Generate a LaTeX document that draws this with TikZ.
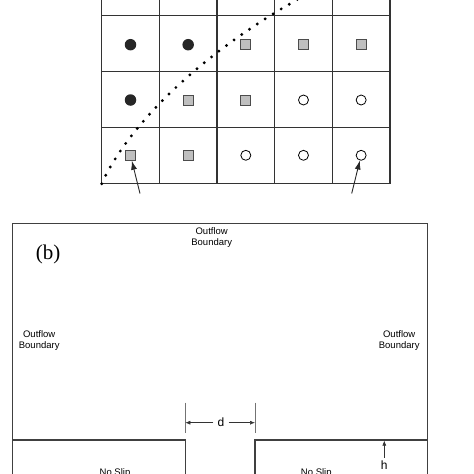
\documentclass[tikz,border=0pt]{standalone}
\usepackage{fontspec}
\setmainfont{Liberation Serif}
\setsansfont{Liberation Sans}
\usetikzlibrary{arrows.meta}
\begin{document}
\begin{tikzpicture}[x=1pt,y=-1pt,
    gridline/.style={line width=1.1pt,black!80},
    wall/.style={line width=1.2pt,black!75},
    ptf/.style={circle,fill=black!85,minimum size=11.5pt,inner sep=0pt},
    pts/.style={rectangle,draw=black!70,fill=black!25,line width=0.8pt,minimum size=10pt,inner sep=0pt},
    pto/.style={circle,draw=black,fill=white,line width=0.8pt,minimum size=10pt,inner sep=0pt},
    pointer/.style={-{Latex[length=9pt,width=6pt]},line width=0.9pt,black!85},
    dim/.style={-{Latex[length=5pt,width=4pt]},line width=0.6pt,black!80},
    ext/.style={line width=0.6pt,black!55},
    txt/.style={font=\sffamily\fontsize{9.5}{11}\selectfont,align=center,inner sep=0pt}]

    \useasboundingbox (0,0) rectangle (474,474);
    \clip (0,0) rectangle (474,474);

    % (a) grid of cells
    \foreach \i in {0,...,5}
        \draw[gridline] (101.7+57.66*\i,183.7) -- (101.7+57.66*\i,-10);
    \foreach \j in {0,...,3}
        \draw[gridline] (101.7,183.7-56*\j) -- (390,183.7-56*\j);

    % cell markers
    \foreach \y/\types [count=\r] in {44.7/{f,f,s,s,s},100/{f,s,s,o,o},155.3/{s,s,o,o,o}}
        \foreach \t [count=\c] in \types
            \node[pt\t] (m\r\c) at (72.84+57.66*\c,\y) {};

    % interface
    \draw[line width=3.2pt,line cap=round,dash pattern=on 0pt off 9.4pt]
        (101.7,183.7) .. controls (125,132) and (190,60) .. (300,-2);

    % pointers
    \coordinate (tailL) at (140,193.5);
    \coordinate (tailR) at (351.7,193.5);
    \draw[pointer] (tailL) -- (m31);
    \draw[pointer] (tailR) -- (m35);

    % (b) domain
    \draw[wall] (12.3,490) -- (12.3,223.7) -- (427.7,223.7) -- (427.7,490);
    \draw[wall] (12.3,440) -- (185.3,440) -- (185.3,490);
    \draw[wall] (427.7,440) -- (255,440) -- (255,490);

    \node[font=\fontsize{21}{24}\selectfont,inner sep=0pt] (tagb) at (48,254) {(b)};
    \node[txt] (outT) at (211.7,237.5) {Outflow\\Boundary};
    \node[txt] (outL) at (39.2,340.5) {Outflow\\Boundary};
    \node[txt] (outR) at (399.2,340.5) {Outflow\\Boundary};
    \node[txt,anchor=north] (slipL) at (115,468) {No Slip};
    \node[txt,anchor=north] (slipR) at (316.3,468) {No Slip};

    % gap width d
    \draw[ext] (185.3,402.7) -- (185.3,433.3);
    \draw[ext] (255,402.7) -- (255,433.3);
    \node[font=\sffamily\fontsize{12}{14}\selectfont,inner sep=0pt,minimum width=15pt] (d) at (221,422.7) {d};
    \coordinate (dL) at (185.3,422.7);
    \coordinate (dR) at (255,422.7);
    \draw[dim] (d) -- (dL);
    \draw[dim] (d) -- (dR);

    % step height h
    \node[font=\sffamily\fontsize{12}{14}\selectfont,inner sep=2.5pt] (h) at (384.3,464.7) {h};
    \coordinate (hT) at (384.3,440.6);
    \draw[dim] (h) -- (hT);

\end{tikzpicture}
\end{document}
